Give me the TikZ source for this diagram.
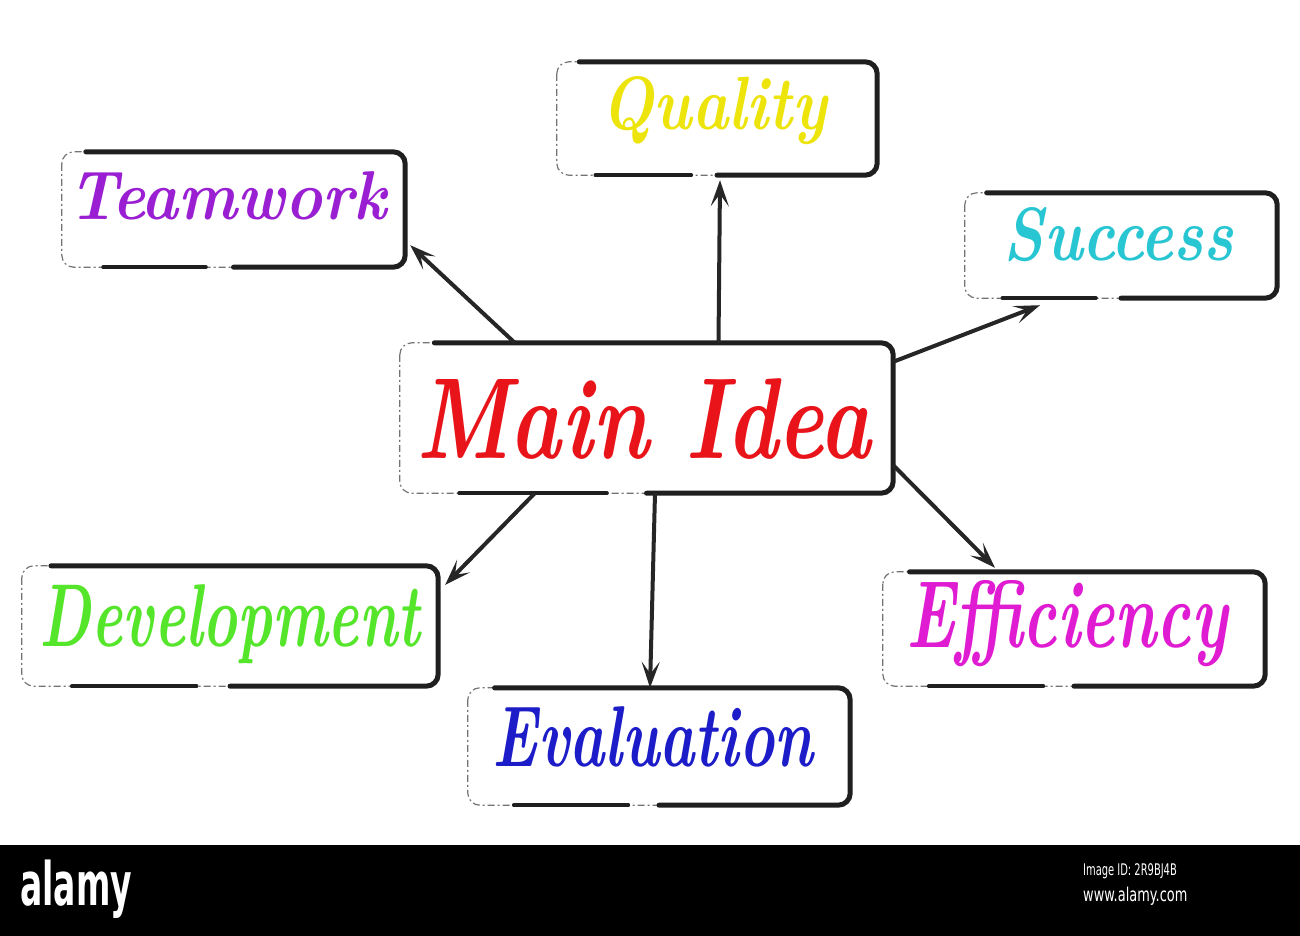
\documentclass[tikz,border=0pt]{standalone}
\usepackage{fontspec}
\usepackage{graphicx}
\usetikzlibrary{arrows.meta,calc}
\newfontfamily\wmfont{DejaVu Sans}
\definecolor{cQ}{HTML}{EDE40C}
\definecolor{cT}{HTML}{9A1FD2}
\definecolor{cS}{HTML}{28C6D2}
\definecolor{cM}{HTML}{E8141A}
\definecolor{cD}{HTML}{55E52A}
\definecolor{cE}{HTML}{E01CD2}
\definecolor{cV}{HTML}{1C1CC8}
% color, width, height, raise, xshift, text
\newcommand{\lbl}[6]{\hspace*{#5pt}\raisebox{#4pt}[#3pt][0pt]{\resizebox{#2pt}{#3pt}{\bfseries\itshape\color{#1}#6}}}
\newcommand{\sketchbox}[1]{%
  \draw[line width=1.2pt, black!55, dash pattern=on 7pt off 3pt on 2pt off 3pt, rounded corners=12pt]
    (#1.north west) rectangle (#1.south east);
  \draw[boxline] ($(#1.north west)!0.07!(#1.north east)$) -- (#1.north east) -- (#1.south east)
    -- ($(#1.south east)!0.5!(#1.south west)$);
  \draw[boxline, line width=3.5pt] ($(#1.south west)!0.12!(#1.south east)$) -- ($(#1.south west)!0.42!(#1.south east)$);
}
\begin{document}
\begin{tikzpicture}[x=1pt,y=-1pt,
  bx/.style={inner sep=0pt, text depth=0pt, align=center},
  boxline/.style={line width=5pt, black!88, rounded corners=12pt, line cap=round},
  conn/.style={line width=4pt, black!85, -{Stealth[length=26pt,width=18pt,inset=12pt]}},
  wm/.style={text=white, inner sep=0pt, anchor=west}]
\useasboundingbox (0,0) rectangle (1300,936);
\fill[white] (0,0) rectangle (1300,936);
\fill[black] (0,845) rectangle (1300,936);

\node[bx, minimum width=320pt, minimum height=113pt] (Q) at (717,118.5) {\lbl{cQ}{225}{53}{15}{-6}{Quality}};
\node[bx, minimum width=343pt, minimum height=115pt] (T) at (233.5,209.5) {\lbl{cT}{318}{48}{13.5}{-12}{Teamwork}};
\node[bx, minimum width=312pt, minimum height=105pt] (S) at (1121,245.5) {\lbl{cS}{230}{53}{12}{-4}{Success}};
\node[bx, minimum width=493pt, minimum height=150pt] (M) at (646.5,418) {\lbl{cM}{454}{80}{0}{-6}{Main Idea}};
\node[bx, minimum width=416pt, minimum height=120pt] (D) at (230,626) {\lbl{cD}{380}{62}{11}{0}{Development}};
\node[bx, minimum width=382pt, minimum height=114pt] (E) at (1074,629) {\lbl{cE}{321}{67}{15.5}{-14}{Efficiency}};
\node[bx, minimum width=382pt, minimum height=117pt] (V) at (659,746.5) {\lbl{cV}{320}{60}{10.5}{-12}{Evaluation}};

\sketchbox{Q}\sketchbox{T}\sketchbox{S}\sketchbox{M}\sketchbox{D}\sketchbox{E}\sketchbox{V}

\draw[conn] ([xshift=72pt]M.north) -- ([xshift=3pt,yshift=-5pt]Q.south);
\draw[conn] ([xshift=115pt]M.north west) -- ([xshift=5pt,yshift=22pt]T.south east);
\draw[conn] ([yshift=-19pt]M.north east) -- ([xshift=-81pt,yshift=-7pt]S.south);
\draw[conn] ([yshift=28pt]M.south east) -- ([xshift=-79pt,yshift=4pt]E.north);
\draw[conn] ([xshift=135pt]M.south west) -- ([xshift=7pt,yshift=-19pt]D.north east);
\draw[conn] ([xshift=8.5pt]M.south) -- ([xshift=-9pt]V.north);

\node[wm] (wmlogo) at (20,889) {\wmfont\bfseries\scalebox{0.55}[1]{\fontsize{60pt}{60pt}\selectfont alamy}};
\node[wm] (wmid) at (1083,871) {\wmfont\scalebox{0.62}[1]{\fontsize{16pt}{16pt}\selectfont Image ID: 2R9BJ4B}};
\node[wm] (wmurl) at (1083,896) {\wmfont\scalebox{0.68}[1]{\fontsize{19pt}{19pt}\selectfont www.alamy.com}};
\end{tikzpicture}
\end{document}
